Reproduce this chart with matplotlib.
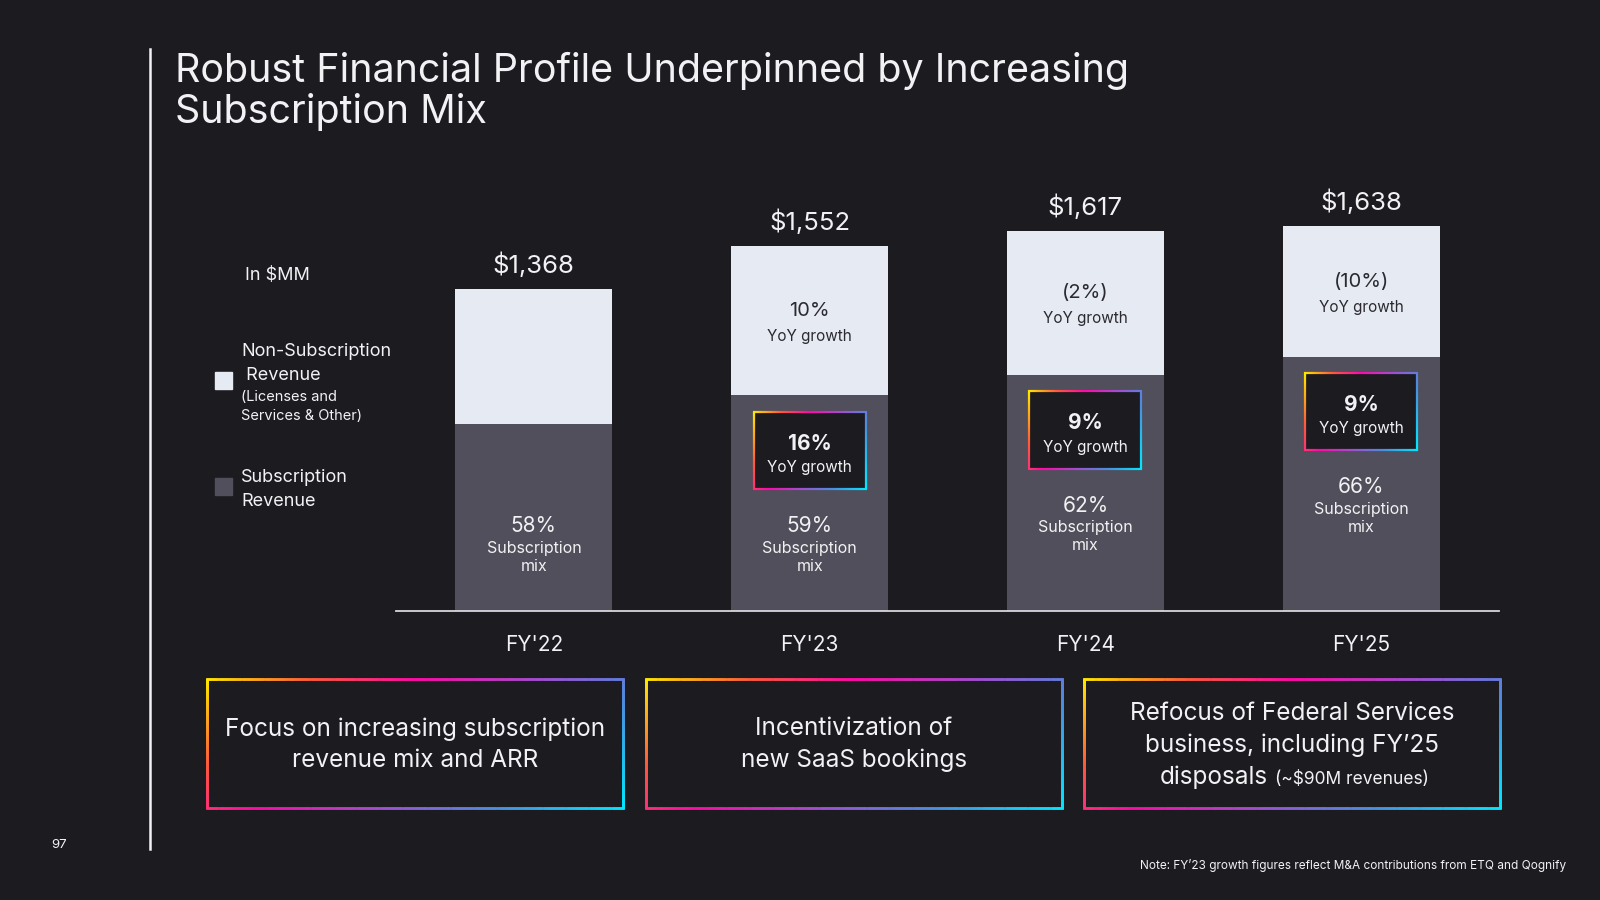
import matplotlib
matplotlib.use("Agg")
import matplotlib.pyplot as plt
import numpy as np
from matplotlib.collections import LineCollection
from matplotlib.colors import LinearSegmentedColormap

plt.rcParams['font.family'] = ['Inter', 'DejaVu Sans']

# ---------------- data ----------------
years = ["FY'22", "FY'23", "FY'24", "FY'25"]
total_rev = [1368, 1552, 1617, 1638]
subscription_rev = [793, 916, 1003, 1081]
total_labels = ["$1,368", "$1,552", "$1,617", "$1,638"]
mix_labels = ["58%", "59%", "62%", "66%"]
nonsub_growth = [None, "10%", "(2%)", "(10%)"]
sub_growth = [None, "16%", "9%", "9%"]
bottom_texts = [
    "Focus on increasing subscription\nrevenue mix and ARR",
    "Incentivization of\nnew SaaS bookings",
]
nonsub_rev = [t - s for t, s in zip(total_rev, subscription_rev)]

BG = "#1c1b20"
SUB_C = "#504f5b"
NON_C = "#e6eaf2"
WHITE = "#f2f2f4"
DARK_TXT = "#2b2a30"

cmap = LinearSegmentedColormap.from_list("grad", [
    (0.0, "#ffe600"), (0.18, "#ff5a3c"), (0.36, "#ff0aa8"),
    (0.58, "#a050d0"), (0.78, "#4a8fe0"), (1.0, "#00e8ff")])

fig = plt.figure(figsize=(16, 9), dpi=100, facecolor=BG)

# overlay in pixel coordinates (y down)
ov = fig.add_axes([0, 0, 1, 1], facecolor="none")
ov.set_xlim(0, 1600)
ov.set_ylim(900, 0)
ov.axis("off")

def grad_box(ax, x0, y_top, w, h, ydown, lw=1.6, z=5, fill=None):
    n = 200
    sgn = 1 if ydown else -1
    us = np.concatenate([np.linspace(0, 1, n), np.ones(n), np.linspace(1, 0, n), np.zeros(n)])
    vs = np.concatenate([np.zeros(n), np.linspace(0, 1, n), np.ones(n), np.linspace(1, 0, n)])
    xs = x0 + us * w
    ys = y_top + sgn * vs * h
    pts = np.column_stack([xs, ys])
    segs = np.stack([pts[:-1], pts[1:]], axis=1)
    t = 0.72 * (us[:-1] + us[1:]) / 2 + 0.28 * (vs[:-1] + vs[1:]) / 2
    if fill is not None:
        ax.fill([x0, x0 + w, x0 + w, x0], [y_top, y_top, y_top + sgn * h, y_top + sgn * h],
                color=fill, zorder=z - 0.5, lw=0)
    lc = LineCollection(segs, colors=cmap(t), linewidths=lw, zorder=z, capstyle="projecting")
    ax.add_collection(lc)

# vertical rule and page number
ov.plot([150, 150], [49, 849], color=WHITE, lw=1.8)
ov.text(51, 845, "97", color=WHITE, fontsize=9.5, va="center", ha="left")

# title
ov.text(175, 82, "Robust Financial Profile Underpinned by Increasing",
        color=WHITE, fontsize=28.4, va="baseline", ha="left")
ov.text(175, 123, "Subscription Mix", color=WHITE, fontsize=28.4, va="baseline", ha="left")

# ---------------- bar chart ----------------
ax = fig.add_axes([396 / 1600, 289 / 900, 1103 / 1600, 400 / 900], facecolor="none")
ax.set_xlim(-0.5, 3.5)
ax.set_ylim(0, 1700)
for s in ["top", "right", "left"]:
    ax.spines[s].set_visible(False)
ax.spines["bottom"].set_color("#d8d8dc")
ax.spines["bottom"].set_linewidth(1.3)
ax.set_yticks([])
x = np.arange(len(years))
ax.set_xticks(x)
ax.set_xticklabels(years, color=WHITE, fontsize=15)
ax.tick_params(axis="x", length=0, pad=17)

bw = 0.57
ax.bar(x, subscription_rev, width=bw, color=SUB_C, zorder=2)
ax.bar(x, nonsub_rev, bottom=subscription_rev, width=bw, color=NON_C, zorder=2)

px = 400 / 1700  # pixels per data unit
box_w = 112 / 275.7
box_h = 77.5 / px
box_gap = 16.3 / px
for i in range(len(years)):
    tot = total_rev[i]
    sub = subscription_rev[i]
    ax.text(x[i], tot + 23.5 / px, total_labels[i], ha="center", va="center",
            color=WHITE, fontsize=18.5)
    if nonsub_growth[i] is not None:
        mid = (tot + sub) / 2
        ax.text(x[i], mid + 9.5 / px, nonsub_growth[i], ha="center", va="center",
                color=DARK_TXT, fontsize=14.5)
        ax.text(x[i], mid - 16 / px, "YoY growth", ha="center", va="center",
                color=DARK_TXT, fontsize=11)
    if sub_growth[i] is not None:
        btop = sub - box_gap
        grad_box(ax, x[i] - box_w / 2, btop, box_w, box_h, ydown=False, lw=1.5, fill=BG, z=5)
        ax.text(x[i], btop - 32 / px, sub_growth[i], ha="center", va="center",
                color=WHITE, fontsize=15, fontweight="bold", zorder=6)
        ax.text(x[i], btop - 56 / px, "YoY growth", ha="center", va="center",
                color=WHITE, fontsize=11, zorder=6)
        mix_y = btop - box_h - 37 / px
    else:
        mix_y = subscription_rev[1] - box_gap - box_h - 37 / px
    ax.text(x[i], mix_y, mix_labels[i], ha="center", va="center", color=WHITE, fontsize=15)
    ax.text(x[i], mix_y - 22 / px, "Subscription", ha="center", va="center",
            color=WHITE, fontsize=11.5)
    ax.text(x[i], mix_y - 40 / px, "mix", ha="center", va="center",
            color=WHITE, fontsize=11.5)

# ---------------- legend ----------------
ov.text(245, 275, "In $MM", color=WHITE, fontsize=13, va="center", ha="left")
ov.add_patch(plt.Rectangle((215, 372), 17, 17, color=NON_C))
ov.add_patch(plt.Rectangle((215, 478), 17, 17, color=SUB_C))
ov.text(241, 351, "Non-Subscription", color=WHITE, fontsize=13, va="center", ha="left")
ov.text(241, 375, " Revenue", color=WHITE, fontsize=13, va="center", ha="left")
ov.text(241, 397, "(Licenses and", color=WHITE, fontsize=10.5, va="center", ha="left")
ov.text(241, 416, "Services & Other)", color=WHITE, fontsize=10.5, va="center", ha="left")
ov.text(241, 478, "Subscription", color=WHITE, fontsize=13, va="center", ha="left")
ov.text(241, 502, "Revenue", color=WHITE, fontsize=13, va="center", ha="left")

# ---------------- bottom boxes ----------------
boxes_x = [207, 646, 1084]
bx_w, bx_top, bx_h = 416, 679, 129
for bx in boxes_x:
    grad_box(ov, bx, bx_top, bx_w, bx_h, ydown=True, lw=1.8)
for bx, txt in zip(boxes_x[:2], bottom_texts):
    ov.text(bx + bx_w / 2, bx_top + bx_h / 2 + 1, txt, color=WHITE, fontsize=17.5,
            ha="center", va="center", linespacing=1.42)
cx = boxes_x[2] + bx_w / 2
ov.text(cx, 713, "Refocus of Federal Services", color=WHITE, fontsize=17.5, ha="center", va="center")
ov.text(cx, 745, "business, including FY\u201925", color=WHITE, fontsize=17.5, ha="center", va="center")
ov.text(1268, 777, "disposals", color=WHITE, fontsize=17.5, ha="right", va="center")
ov.text(1275, 779, "(~$90M revenues)", color=WHITE, fontsize=12.5, ha="left", va="center")

# note
ov.text(1566, 865, "Note: FY\u201923 growth figures reflect M&A contributions from ETQ and Qognify",
        color=WHITE, fontsize=8.5, ha="right", va="center")

fig.savefig("out.png", dpi=100, facecolor=BG)
